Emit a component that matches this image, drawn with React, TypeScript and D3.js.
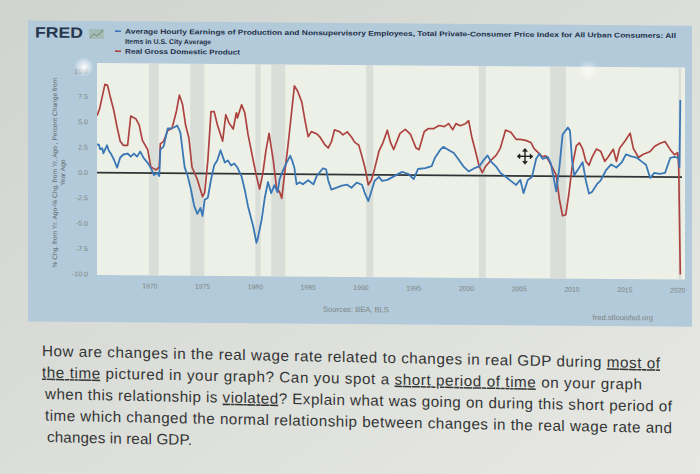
import * as d3 from 'd3';

// real wage (AHETPI / CPI), % change from a year ago
const wageYears = [
  1965.0, 1965.2, 1965.3, 1965.5, 1965.6, 1965.95, 1966.1, 1966.3, 1966.6, 1966.9,
  1967.2, 1967.5, 1967.9, 1968.2, 1968.5, 1968.8, 1969.1, 1969.4, 1969.8, 1970.1,
  1970.4, 1970.7, 1970.9, 1971.0, 1971.3, 1971.7, 1972.0, 1972.3, 1972.6, 1972.9,
  1973.3, 1973.6, 1973.9, 1974.2, 1974.5, 1974.8, 1975.0, 1975.2, 1975.5, 1975.8,
  1976.1, 1976.4, 1976.7, 1977.1, 1977.4, 1977.7, 1978.0, 1978.3, 1978.7, 1979.0,
  1979.3, 1979.8, 1980.1, 1980.2, 1980.6, 1980.9, 1981.2, 1981.5, 1981.8, 1982.1,
  1982.3, 1982.6, 1982.9, 1983.3, 1983.5, 1983.7, 1983.9, 1984.2, 1984.5, 1985.0,
  1985.5, 1985.8, 1986.1, 1986.4, 1986.7, 1986.9, 1987.2, 1987.7, 1988.2, 1988.7,
  1989.1, 1989.6, 1990.1, 1990.4, 1990.7, 1991.0, 1991.3, 1991.7, 1992.0, 1992.5,
  1993.2, 1993.9, 1994.5, 1995.0, 1995.4, 1996.1, 1996.7, 1997.0, 1997.5, 1997.8,
  1998.3, 1998.8, 1999.3, 1999.7, 2000.2, 2000.7, 2001.2, 2001.6, 2002.0, 2002.3,
  2002.8, 2003.2, 2003.7, 2004.2, 2004.7, 2005.1, 2005.4, 2005.8, 2006.2, 2006.6,
  2006.9, 2007.2, 2007.7, 2008.0, 2008.3, 2008.5, 2008.8, 2009.1, 2009.6, 2009.8,
  2010.0, 2010.2, 2010.7, 2011.0, 2011.3, 2011.6, 2011.9, 2012.4, 2012.7, 2013.2,
  2013.7, 2014.2, 2014.7, 2015.1, 2015.6, 2016.1, 2016.6, 2017.0, 2017.4, 2017.8,
  2018.3, 2018.8, 2019.3, 2019.7, 2020.1, 2020.17, 2020.25,
];
const wageValues = [
  2.8, 2.7, 2.3, 2.4, 1.9, 2.7, 2.2, 1.9, 1.3, 0.5,
  1.5, 1.8, 1.9, 1.6, 1.9, 1.6, 2.1, 1.5, 1.0, 0.5,
  -0.2, 0.0, -0.3, 2.3, 2.6, 4.4, 4.4, 4.5, 4.7, 4.0,
  0.6, -0.3, -1.6, -3.2, -4.0, -3.4, -4.2, -2.6, -2.4, -0.6,
  0.8, 1.3, 2.3, 1.1, 1.3, 0.8, 1.0, 0.6, -0.3, -1.6,
  -3.2, -5.2, -6.8, -6.5, -4.5, -2.3, -0.8, -1.9, -1.1, -1.8,
  -0.5, 0.3, 1.0, 1.8, 1.3, 0.6, -1.0, -0.8, -1.0, -0.6,
  -1.0, -0.2, 0.2, 0.6, 0.5, -0.6, -1.5, -1.3, -1.1, -1.0,
  -1.3, -0.8, -1.0, -1.9, -2.6, -1.6, -0.6, -0.2, -0.6, -0.5,
  -0.1, 0.3, 0.1, -0.4, 0.6, 0.7, 0.9, 1.7, 2.5, 2.8,
  2.5, 2.2, 1.5, 0.9, 0.4, 0.7, 0.9, 1.5, 2.0, 1.4,
  0.9, 0.3, -0.1, -0.5, -0.9, -0.4, -1.7, -0.4, -0.1, 1.7,
  2.2, 1.7, 1.9, 1.2, -0.4, -1.5, 0.9, 4.1, 4.8, 4.5,
  1.5, 0.1, 0.9, 1.4, -0.4, -1.7, -1.5, -0.7, -0.4, 0.6,
  1.2, 0.9, 1.4, 2.2, 2.0, 1.9, 1.5, 1.2, -0.1, 0.4,
  0.3, 0.4, 1.9, 2.0, 1.9, 1.0, 7.6,
];

// real GDP, % change from a year ago
const gdpYears = [
  1965.0, 1965.25, 1965.75, 1966.0, 1966.25, 1966.6, 1966.9, 1967.2, 1967.5, 1967.9,
  1968.2, 1968.7, 1969.0, 1969.3, 1969.8, 1970.1, 1970.6, 1970.9, 1971.0, 1971.3,
  1971.7, 1972.1, 1972.5, 1972.8, 1973.1, 1973.4, 1973.7, 1974.0, 1974.5, 1975.0,
  1975.2, 1975.5, 1975.8, 1976.1, 1976.4, 1976.9, 1977.2, 1977.5, 1977.9, 1978.2,
  1978.3, 1978.7, 1979.0, 1979.3, 1979.8, 1980.1, 1980.4, 1980.7, 1981.0, 1981.3,
  1981.7, 1982.0, 1982.3, 1982.5, 1982.8, 1983.1, 1983.4, 1983.7, 1984.0, 1984.4,
  1984.7, 1985.0, 1985.3, 1985.8, 1986.1, 1986.6, 1986.9, 1987.2, 1987.5, 1988.0,
  1988.3, 1988.7, 1989.1, 1989.4, 1989.8, 1990.1, 1990.4, 1990.7, 1991.0, 1991.3,
  1991.7, 1992.1, 1992.5, 1992.8, 1993.1, 1993.7, 1994.2, 1994.7, 1995.2, 1995.5,
  1996.0, 1996.4, 1996.9, 1997.4, 1997.9, 1998.3, 1998.7, 1999.0, 1999.4, 1999.9,
  2000.2, 2000.5, 2000.9, 2001.2, 2001.5, 2001.8, 2002.3, 2002.8, 2003.2, 2003.7,
  2004.2, 2004.7, 2005.1, 2005.6, 2006.1, 2006.4, 2006.7, 2007.2, 2007.5, 2007.8,
  2008.1, 2008.5, 2008.8, 2009.1, 2009.4, 2009.7, 2010.0, 2010.4, 2010.7, 2011.0,
  2011.3, 2011.6, 2011.9, 2012.3, 2012.7, 2013.1, 2013.4, 2013.9, 2014.2, 2014.5,
  2015.0, 2015.5, 2015.8, 2016.3, 2016.7, 2017.4, 2017.8, 2018.3, 2018.8, 2019.3,
  2019.7, 2020.0, 2020.1, 2020.25,
];
const gdpValues = [
  5.6, 6.3, 8.7, 8.6, 7.5, 6.1, 4.5, 3.1, 2.7, 2.7,
  5.6, 5.3, 4.7, 3.2, 2.3, 0.6, 0.3, 0.6, 2.9, 3.1,
  4.2, 4.4, 6.0, 7.7, 6.8, 4.7, 3.5, 0.6, -0.6, -2.3,
  -1.9, 1.3, 6.1, 6.1, 4.8, 3.2, 5.8, 5.0, 4.4, 6.0,
  5.5, 6.8, 6.0, 3.9, 1.3, -0.2, -1.5, 0.0, 2.3, 4.0,
  1.3, -1.3, -1.8, -2.4, 0.3, 2.9, 5.8, 8.7, 8.2, 7.1,
  5.3, 3.7, 4.2, 4.0, 3.7, 2.9, 2.6, 3.2, 4.4, 4.2,
  3.9, 4.2, 3.7, 3.2, 2.9, 1.8, 0.6, -1.0, -0.5, 0.6,
  2.3, 3.2, 4.4, 3.2, 2.5, 4.1, 4.5, 4.0, 2.7, 2.5,
  4.3, 4.6, 4.6, 4.9, 4.8, 5.1, 4.5, 5.1, 4.9, 5.1,
  5.4, 3.8, 2.2, 0.9, 0.3, 0.9, 1.5, 2.0, 2.7, 4.5,
  4.3, 3.6, 3.6, 3.5, 3.3, 2.7, 2.4, 1.9, 2.0, 1.5,
  0.9, 0.1, -2.3, -3.9, -3.8, -1.7, 0.9, 3.0, 3.3, 2.7,
  1.5, 1.1, 1.9, 2.7, 2.5, 1.5, 1.9, 2.7, 1.5, 2.8,
  3.5, 4.3, 2.8, 1.9, 2.2, 2.5, 3.0, 3.3, 3.5, 2.7,
  2.2, 2.4, 1.0, -9.6,
];

const recessionStarts = [1969.92, 1973.83, 1980.0, 1981.5, 1990.5, 2001.17, 2007.92, 2020.08];
const recessionEnds = [1970.83, 1975.17, 1980.5, 1982.83, 1991.17, 2001.83, 2009.42, 2020.33];

const xTickYears = [1970, 1975, 1980, 1985, 1990, 1995, 2000, 2005, 2010, 2015, 2020];
const yTickValues = [10, 7.5, 5, 2.5, 0, -2.5, -5, -7.5, -10];

const legendWage = 'Average Hourly Earnings of Production and Nonsupervisory Employees, Total Private-Consumer Price Index for All Urban Consumers: All';
const legendWage2 = 'Items in U.S. City Average';
const legendGdp = 'Real Gross Domestic Product';
const yTitle = ['% Chg. from Yr. Ago-% Chg. from Yr. Ago , Percent Change from', 'Year Ago'];

// [text, underlined]
const questionLines: [string, boolean][][] = [
  [['How are changes in the real wage rate related to changes in real GDP during ', false], ['most of', true]],
  [['the time', true], [' pictured in your graph?  Can you spot a ', false], ['short period of time', true], [' on your graph', false]],
  [['when this relationship is ', false], ['violated', true], ['? Explain what was going on during this short period of', false]],
  [['time which changed the normal relationship between changes in the real wage rate and', false]],
  [['changes in real GDP.', false]],
];
const questionStartX = [42, 42, 45, 45, 47];
const questionWidths = [618, 600, 627, 627, 145];

const WAGE_COLOR = '#3a77b6';
const GDP_COLOR = '#ad4340';

export default function App() {
  const width = 700;
  const height = 474;
  const plot = { left: 97, right: 685, top: 63, bottom: 275 };

  const x = d3.scaleLinear().domain([1965, 2020.6]).range([plot.left, 684]);
  const y = d3.scaleLinear().domain([-10.1, 10.8]).range([plot.bottom, plot.top]);

  const line = d3.line<[number, number]>()
    .x(d => x(d[0]))
    .y(d => y(d[1]));

  const wagePath = line(wageYears.map((yr, i) => [yr, wageValues[i]]) as [number, number][]) || '';
  const gdpPath = line(gdpYears.map((yr, i) => [yr, gdpValues[i]]) as [number, number][]) || '';

  const sans = '"Liberation Sans", Arial, sans-serif';

  return (
    <svg width={width} height={height} style={{ position: 'fixed', left: 0, top: 0 }}>
      <defs>
        <linearGradient id="page" x1="0" y1="0" x2="1" y2="1">
          <stop offset="0" stopColor="#d0d4ce" />
          <stop offset="1" stopColor="#e7e8e3" />
        </linearGradient>
        <radialGradient id="glare">
          <stop offset="0" stopColor="#ffffff" stopOpacity="0.95" />
          <stop offset="1" stopColor="#ffffff" stopOpacity="0" />
        </radialGradient>
        <clipPath id="plotClip">
          <rect x={plot.left} y={plot.top} width={plot.right - plot.left} height={plot.bottom - plot.top + 3} />
        </clipPath>
      </defs>

      <rect x={0} y={0} width={width} height={height} fill="url(#page)" />

      <g transform="translate(97,0) skewY(0.45) translate(-97,0)">
        {/* FRED panel */}
        <rect x={28} y={21} width={664} height={301} fill="#b3cadb" />
        <rect x={plot.left} y={plot.top} width={plot.right - plot.left} height={plot.bottom - plot.top} fill="#edf0e6" />

        {/* recession shading */}
        {recessionStarts.map((s, i) => (
          <rect key={i} x={x(s)} y={plot.top} width={Math.max(2, x(recessionEnds[i]) - x(s))}
            height={plot.bottom - plot.top} fill="#c9cfcd" opacity={0.55} />
        ))}

        {/* header */}
        <text x={35} y={38} fontFamily={sans} fontWeight="bold" fontSize={15} fill="#27364f"
          textLength={48} lengthAdjust="spacingAndGlyphs">FRED</text>
        <rect x={89} y={29} width={15} height={10} fill="#9fb5a6" opacity={0.7} />
        <path d="M90,38 L94,34 L97,36 L103,30" stroke="#7d9a86" strokeWidth={1.2} fill="none" />

        <line x1={115} x2={121} y1={31} y2={31} stroke={WAGE_COLOR} strokeWidth={1.6} />
        <text x={125} y={33.5} fontFamily={sans} fontWeight="bold" fontSize={7} fill="#223048"
          textLength={551} lengthAdjust="spacingAndGlyphs">{legendWage}</text>
        <text x={125} y={43.5} fontFamily={sans} fontWeight="bold" fontSize={7} fill="#223048">{legendWage2}</text>
        <line x1={115} x2={121} y1={51} y2={51} stroke={GDP_COLOR} strokeWidth={1.6} />
        <text x={125} y={53.5} fontFamily={sans} fontWeight="bold" fontSize={7} fill="#223048"
          textLength={115} lengthAdjust="spacingAndGlyphs">{legendGdp}</text>

        {/* y axis title */}
        <g transform="translate(57,173) rotate(-90)">
          <text x={0} y={0} textAnchor="middle" fontFamily={sans} fontSize={6.6} fill="#5f6a72">{yTitle[0]}</text>
          <text x={0} y={8} textAnchor="middle" fontFamily={sans} fontSize={6.6} fill="#5f6a72">{yTitle[1]}</text>
        </g>

        {/* y tick labels */}
        {yTickValues.map(v => (
          <text key={v} x={88} y={y(v) + 2.5} textAnchor="end" fontFamily={sans} fontSize={7}
            fill="#7c8580">{v.toFixed(1)}</text>
        ))}

        {/* x tick labels */}
        {xTickYears.map(t => (
          <text key={t} x={x(t)} y={288} textAnchor="middle" fontFamily={sans} fontSize={6.8}
            fill="#7c8580">{t}</text>
        ))}

        <text x={356} y={310} textAnchor="middle" fontFamily={sans} fontSize={7.6} fill="#7c8580">Sources: BEA, BLS</text>
        <text x={653} y={316} textAnchor="end" fontFamily={sans} fontSize={7.6} fill="#7c8580">fred.stlouisfed.org</text>

        {/* zero line */}
        <line x1={plot.left} x2={682} y1={y(0)} y2={y(0)} stroke="#2e3436" strokeWidth={1.8} />

        <g clipPath="url(#plotClip)">
          <path d={gdpPath} fill="none" stroke={GDP_COLOR} strokeWidth={1.7} strokeLinejoin="round" />
          <path d={wagePath} fill="none" stroke={WAGE_COLOR} strokeWidth={1.8} strokeLinejoin="round" />
        </g>

        {/* move cursor */}
        <g transform="translate(525,153)" stroke="#1e1e1e" strokeWidth={1.4} fill="#1e1e1e">
          <line x1={-7} x2={7} y1={0} y2={0} />
          <line x1={0} x2={0} y1={-7} y2={7} />
          <path d="M-8,0 L-5,-2.5 L-5,2.5 Z M8,0 L5,-2.5 L5,2.5 Z M0,-8 L-2.5,-5 L2.5,-5 Z M0,8 L-2.5,5 L2.5,5 Z" strokeWidth={0.5} />
        </g>
      </g>

      {/* glare spots */}
      <circle cx={84} cy={67} r={10} fill="url(#glare)" />
      <circle cx={588} cy={71} r={11} fill="url(#glare)" opacity={0.7} />

      {/* question text */}
      <g transform="translate(42,0) skewY(1.15) translate(-42,0)">
        {questionLines.map((segs, i) => (
          <text key={i} x={questionStartX[i]} y={356 + i * 21.5} fontFamily={sans} fontSize={15.2} fill="#333535"
            textLength={questionWidths[i]} lengthAdjust="spacing">
            {segs.map(([t, u], j) => (
              <tspan key={j} textDecoration={u ? 'underline' : undefined}>{t}</tspan>
            ))}
          </text>
        ))}
      </g>
    </svg>
  );
}
